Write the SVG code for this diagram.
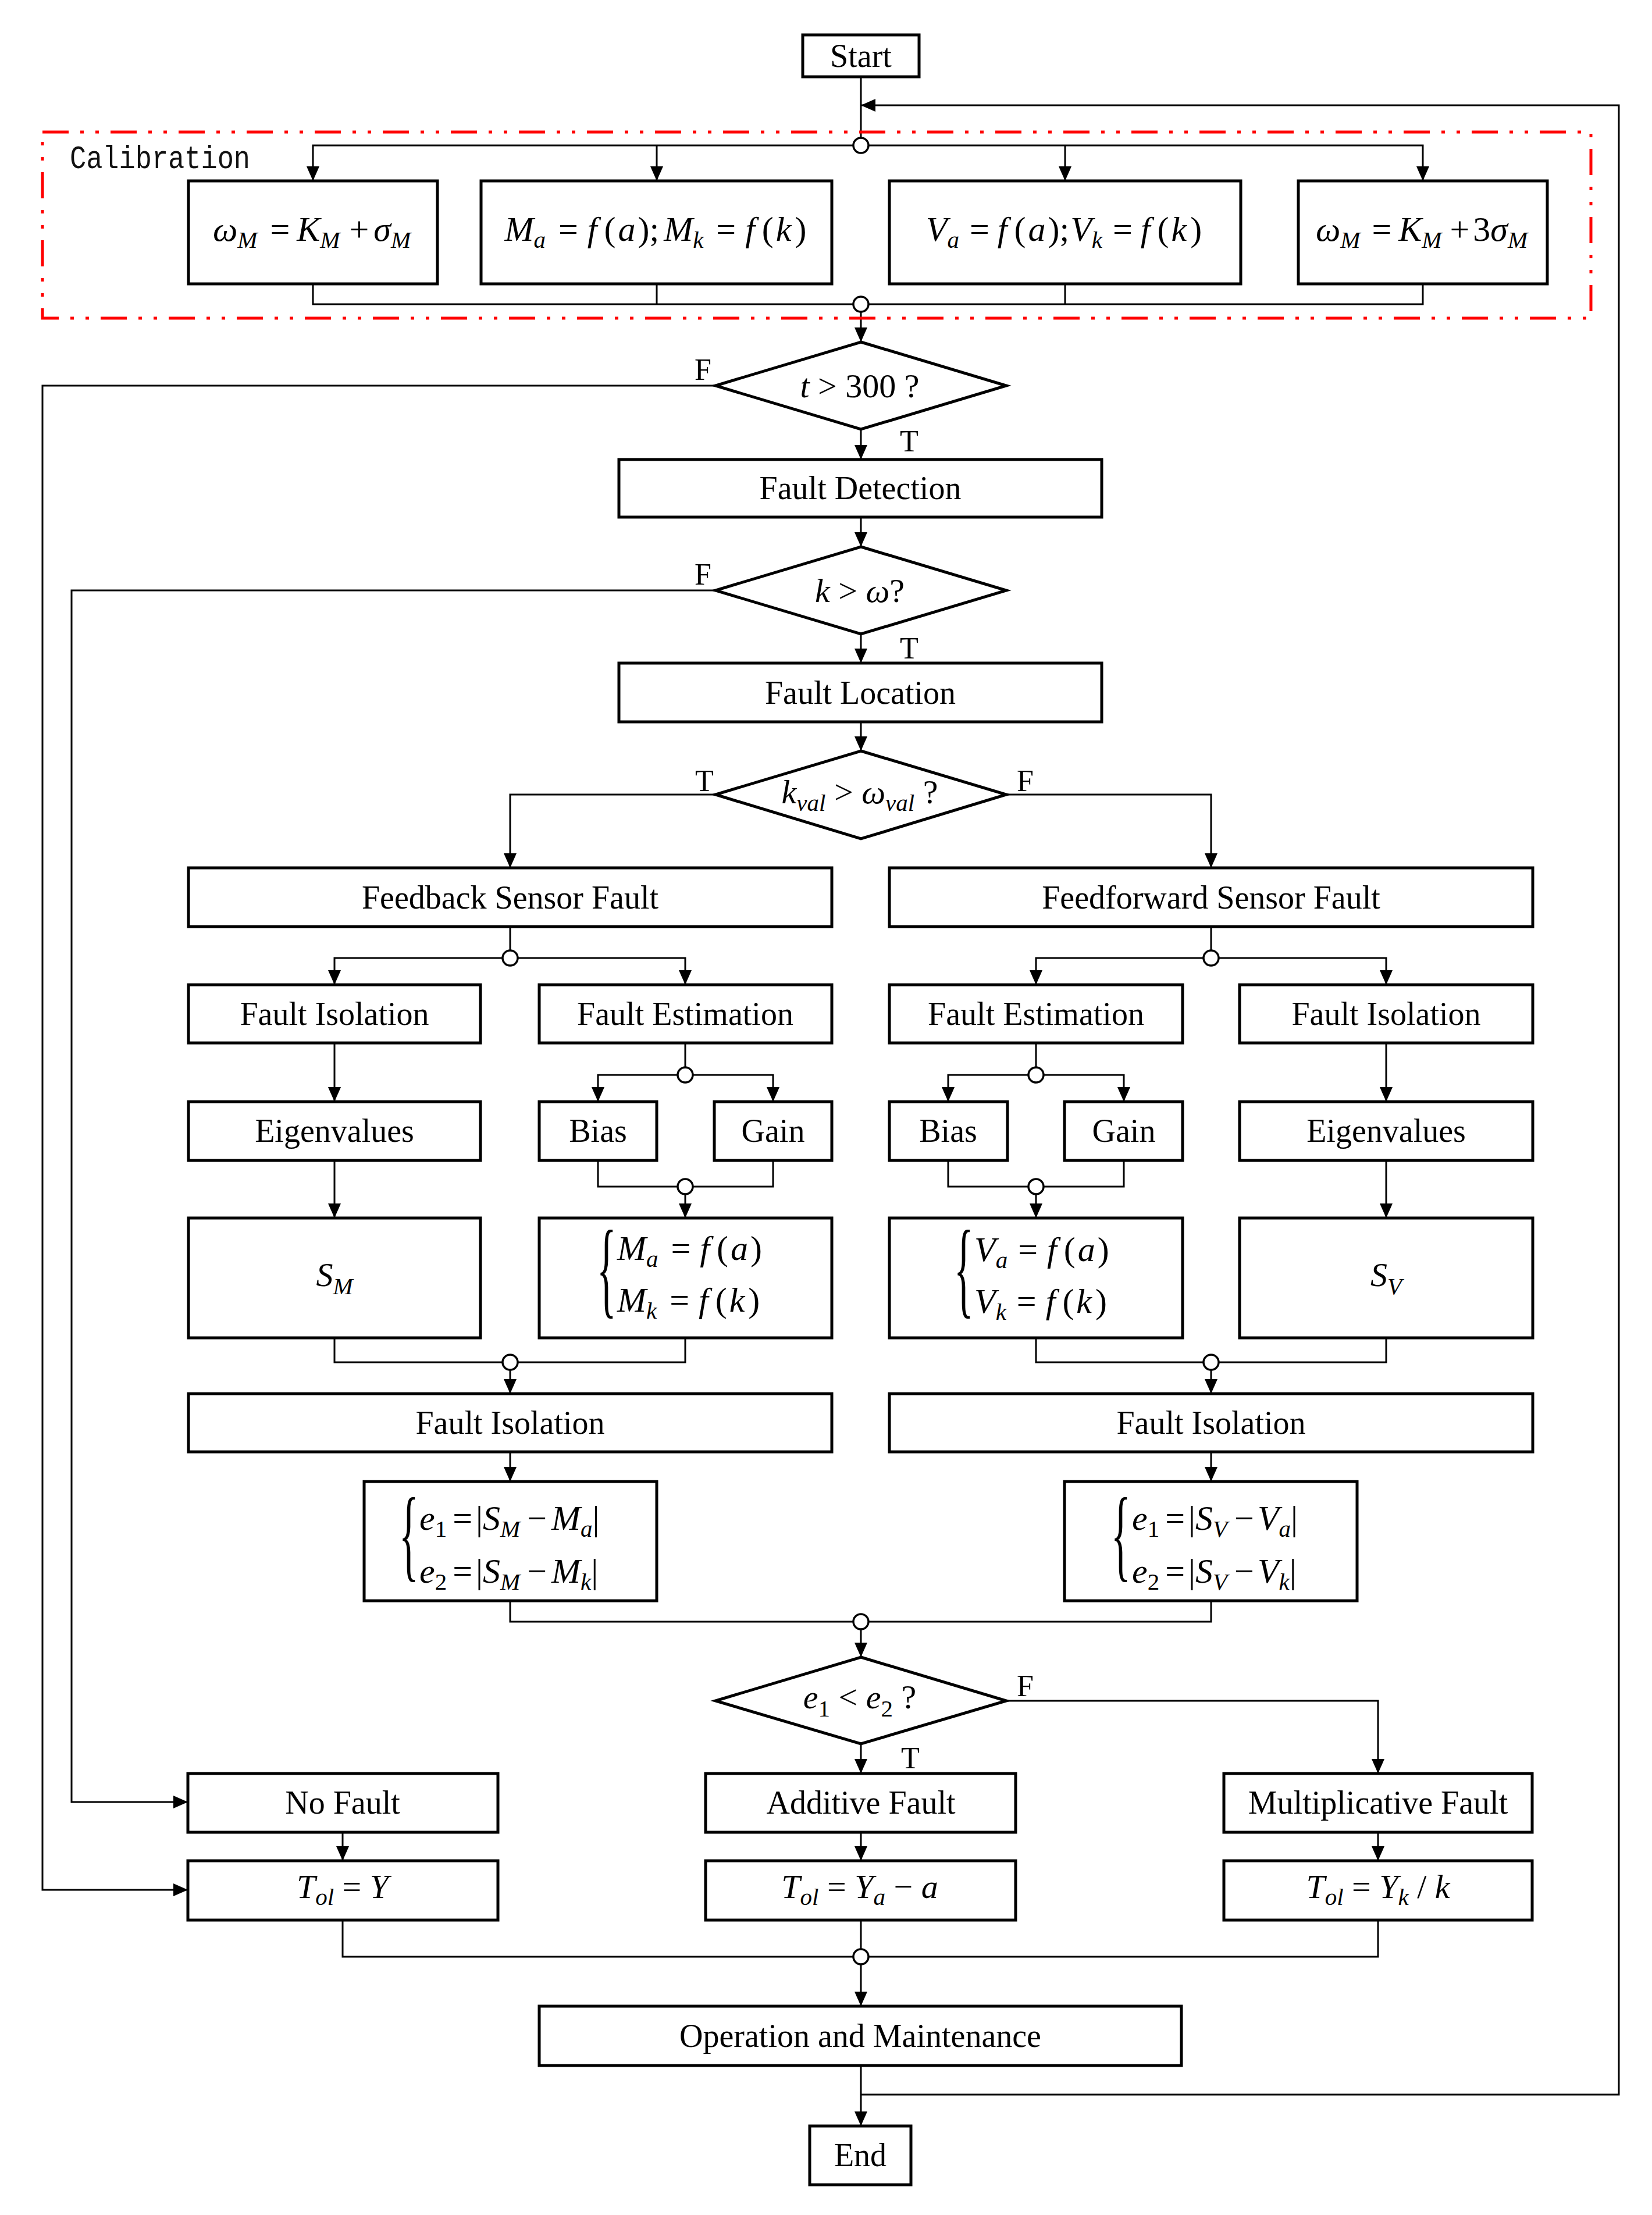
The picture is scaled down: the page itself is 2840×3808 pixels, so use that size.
<svg xmlns="http://www.w3.org/2000/svg" width="2840" height="3808" viewBox="0 0 2840 3808">
<style>
.box{fill:#fff;stroke:#000;stroke-width:5}
.ln{fill:none;stroke:#000;stroke-width:3}
.ar{fill:none;stroke:#000;stroke-width:3;marker-end:url(#ah)}
.jn{fill:#fff;stroke:#000;stroke-width:3.5}
.red{fill:none;stroke:#ff0000;stroke-width:5;stroke-dasharray:45 20 6 20 6 20}
.t{font-family:"Liberation Serif","Times New Roman",serif;font-size:56px;text-anchor:middle;fill:#000}
.m{font-family:"Liberation Serif","Times New Roman",serif;font-size:58px;fill:#000}
.f{font-family:"Liberation Serif","Times New Roman",serif;font-size:60px;fill:#000}
.mc{text-anchor:middle}
.i{font-style:italic}
.s{font-size:41px;font-style:italic}
.su{font-size:41px}
.lab{font-family:"Liberation Serif","Times New Roman",serif;font-size:52px;fill:#000}
.cal{font-family:"Liberation Mono","DejaVu Sans Mono",monospace;font-size:56px;fill:#111}
.br{font-family:"Liberation Serif","Times New Roman",serif;font-size:184px;fill:#000}
</style>
<defs>
<marker id="ah" markerUnits="userSpaceOnUse" markerWidth="25" markerHeight="22" viewBox="0 0 25 22" refX="25" refY="11" orient="auto"><path d="M0,0 L25,11 L0,22 z" fill="#000"/></marker>
</defs>
<rect x="0" y="0" width="2840" height="3808" fill="#fff"/>

<g id="connectors">
<path class="ln" d="M1480,132 V250"/>
<path class="ar" d="M1480,250 H538 V311"/>
<path class="ar" d="M1480,250 H2446 V311"/>
<path class="ar" d="M1129,250 V311"/>
<path class="ar" d="M1831,250 V311"/>
<path class="ln" d="M538,488 V523 H2446 V488"/>
<path class="ln" d="M1129,488 V523"/>
<path class="ln" d="M1831,488 V523"/>
<path class="ar" d="M1480,523 V588"/>
<path class="ar" d="M1230,663 H73 V3249 H323"/>
<path class="ar" d="M1480,738 V790"/>
<path class="ar" d="M1480,889 V940"/>
<path class="ar" d="M1230,1015 H123 V3098 H323"/>
<path class="ar" d="M1480,1090 V1140"/>
<path class="ar" d="M1480,1241 V1291"/>
<path class="ar" d="M1230,1366 H877 V1492"/>
<path class="ar" d="M1730,1366 H2082 V1492"/>
<path class="ln" d="M877,1593 V1647"/>
<path class="ar" d="M877,1647 H575 V1693"/>
<path class="ar" d="M877,1647 H1178 V1693"/>
<path class="ar" d="M575,1793 V1894"/>
<path class="ln" d="M1178,1793 V1848"/>
<path class="ar" d="M1178,1848 H1028 V1894"/>
<path class="ar" d="M1178,1848 H1329 V1894"/>
<path class="ln" d="M1028,1995 V2040 H1329 V1995"/>
<path class="ar" d="M1178,2040 V2094"/>
<path class="ar" d="M575,1995 V2094"/>
<path class="ln" d="M575,2300 V2342 H1178 V2300"/>
<path class="ar" d="M877,2342 V2396"/>
<path class="ar" d="M877,2496 V2547"/>
<path class="ln" d="M877,2752 V2788 H2082 V2752"/>
<path class="ln" d="M2082,1593 V1647"/>
<path class="ar" d="M2082,1647 H1781 V1693"/>
<path class="ar" d="M2082,1647 H2383 V1693"/>
<path class="ln" d="M1781,1793 V1848"/>
<path class="ar" d="M1781,1848 H1630 V1894"/>
<path class="ar" d="M1781,1848 H1932 V1894"/>
<path class="ar" d="M2383,1793 V1894"/>
<path class="ln" d="M1630,1995 V2040 H1932 V1995"/>
<path class="ar" d="M1781,2040 V2094"/>
<path class="ar" d="M2383,1995 V2094"/>
<path class="ln" d="M1781,2300 V2342 H2383 V2300"/>
<path class="ar" d="M2082,2342 V2396"/>
<path class="ar" d="M2082,2496 V2547"/>
<path class="ar" d="M1480,2788 V2849"/>
<path class="ar" d="M1730,2924 H2369 V3049"/>
<path class="ar" d="M1480,2998 V3049"/>
<path class="ar" d="M589,3150 V3199"/>
<path class="ar" d="M1480,3150 V3199"/>
<path class="ar" d="M2369,3150 V3199"/>
<path class="ln" d="M589,3301 V3364 H2369 V3301"/>
<path class="ln" d="M1480,3301 V3364"/>
<path class="ar" d="M1480,3364 V3449"/>
<path class="ar" d="M1480,3551 V3655"/>
<path class="ar" d="M1480,3601 H2783 V181 H1480"/>
<circle class="jn" cx="1480" cy="250" r="13"/>
<circle class="jn" cx="1480" cy="523" r="13"/>
<circle class="jn" cx="877" cy="1647" r="13"/>
<circle class="jn" cx="1178" cy="1848" r="13"/>
<circle class="jn" cx="1178" cy="2040" r="13"/>
<circle class="jn" cx="877" cy="2342" r="13"/>
<circle class="jn" cx="2082" cy="1647" r="13"/>
<circle class="jn" cx="1781" cy="1848" r="13"/>
<circle class="jn" cx="1781" cy="2040" r="13"/>
<circle class="jn" cx="2082" cy="2342" r="13"/>
<circle class="jn" cx="1480" cy="2788" r="13"/>
<circle class="jn" cx="1480" cy="3364" r="13"/>
<text class="lab" x="1194" y="653">F</text>
<text class="lab" x="1547" y="776">T</text>
<text class="lab" x="1194" y="1005">F</text>
<text class="lab" x="1547" y="1132">T</text>
<text class="lab" x="1195" y="1360">T</text>
<text class="lab" x="1748" y="1360">F</text>
<text class="lab" x="1748" y="2916">F</text>
<text class="lab" x="1549" y="3040">T</text>
</g>

<g id="calibration">
<rect class="red" x="73" y="227" width="2662" height="320"/>
<text class="cal" x="120" y="289" textLength="310" lengthAdjust="spacingAndGlyphs">Calibration</text>
</g>

<g id="start"><rect class="box" x="1380" y="60" width="200" height="72"/><text class="t" x="1480" y="115">Start</text></g>

<g id="cal1"><rect class="box" x="324" y="311" width="428" height="177"/>
<text class="f mc" x="536" y="414"><tspan class="i">ω</tspan><tspan class="s" dy="12">M</tspan><tspan dy="-12" dx="22">=</tspan><tspan class="i" dx="12">K</tspan><tspan class="s" dy="12">M</tspan><tspan dy="-12" dx="16">+</tspan><tspan class="i" dx="8">σ</tspan><tspan class="s" dy="12">M</tspan></text></g>
<g id="cal2"><rect class="box" x="827" y="311" width="603" height="177"/>
<text class="f mc" x="1127" y="414"><tspan class="i">M</tspan><tspan class="s" dy="12">a</tspan><tspan dy="-12" dx="22">=</tspan><tspan class="i" dx="16">f</tspan><tspan dx="12">(</tspan><tspan class="i" dx="4">a</tspan><tspan dx="4">);</tspan><tspan class="i" dx="8">M</tspan><tspan class="s" dy="12">k</tspan><tspan dy="-12" dx="22">=</tspan><tspan class="i" dx="16">f</tspan><tspan dx="12">(</tspan><tspan class="i" dx="4">k</tspan><tspan dx="6">)</tspan></text></g>
<g id="cal3"><rect class="box" x="1529" y="311" width="604" height="177"/>
<text class="f mc" x="1829" y="414"><tspan class="i">V</tspan><tspan class="s" dy="12">a</tspan><tspan dy="-12" dx="18">=</tspan><tspan class="i" dx="14">f</tspan><tspan dx="12">(</tspan><tspan class="i" dx="4">a</tspan><tspan dx="4">);</tspan><tspan class="i" dx="2">V</tspan><tspan class="s" dy="12">k</tspan><tspan dy="-12" dx="18">=</tspan><tspan class="i" dx="14">f</tspan><tspan dx="12">(</tspan><tspan class="i" dx="4">k</tspan><tspan dx="6">)</tspan></text></g>
<g id="cal4"><rect class="box" x="2232" y="311" width="428" height="177"/>
<text class="f mc" x="2444" y="414"><tspan class="i">ω</tspan><tspan class="s" dy="12">M</tspan><tspan dy="-12" dx="20">=</tspan><tspan class="i" dx="12">K</tspan><tspan class="s" dy="12">M</tspan><tspan dy="-12" dx="14">+</tspan><tspan dx="6">3</tspan><tspan class="i">σ</tspan><tspan class="s" dy="12">M</tspan></text></g>

<g id="dec1"><polygon class="box" points="1480,588 1730,663 1480,738 1230,663"/>
<text class="m mc" x="1478" y="683"><tspan class="i">t</tspan><tspan> &gt; 300 ?</tspan></text></g>
<g id="faultDetection"><rect class="box" x="1064" y="790" width="830" height="99"/><text class="t" x="1479" y="858">Fault Detection</text></g>
<g id="dec2"><polygon class="box" points="1480,940 1730,1015 1480,1090 1230,1015"/>
<text class="m mc" x="1478" y="1035"><tspan class="i">k</tspan><tspan> &gt; </tspan><tspan class="i">ω</tspan><tspan>?</tspan></text></g>
<g id="faultLocation"><rect class="box" x="1064" y="1140" width="830" height="101"/><text class="t" x="1479" y="1210">Fault Location</text></g>
<g id="dec3"><polygon class="box" points="1480,1291 1730,1366 1480,1442 1230,1366"/>
<text class="m mc" x="1478" y="1381"><tspan class="i">k</tspan><tspan class="s" dy="13">val</tspan><tspan dy="-13"> &gt; </tspan><tspan class="i">ω</tspan><tspan class="s" dy="13">val</tspan><tspan dy="-13"> ?</tspan></text></g>

<g id="feedback"><rect class="box" x="324" y="1492" width="1106" height="101"/><text class="t" x="877" y="1562">Feedback Sensor Fault</text></g>
<g id="feedforward"><rect class="box" x="1529" y="1492" width="1106" height="101"/><text class="t" x="2082" y="1562">Feedforward Sensor Fault</text></g>

<g id="fbIsolation"><rect class="box" x="324" y="1693" width="502" height="100"/><text class="t" x="575" y="1762">Fault Isolation</text></g>
<g id="fbEstimation"><rect class="box" x="927" y="1693" width="503" height="100"/><text class="t" x="1178" y="1762">Fault Estimation</text></g>
<g id="fbEigen"><rect class="box" x="324" y="1894" width="502" height="101"/><text class="t" x="575" y="1963">Eigenvalues</text></g>
<g id="fbBias"><rect class="box" x="927" y="1894" width="202" height="101"/><text class="t" x="1028" y="1963">Bias</text></g>
<g id="fbGain"><rect class="box" x="1228" y="1894" width="202" height="101"/><text class="t" x="1329" y="1963">Gain</text></g>
<g id="fbSM"><rect class="box" x="324" y="2094" width="502" height="206"/>
<text class="m mc" x="575" y="2211"><tspan class="i">S</tspan><tspan class="s" dy="14">M</tspan></text></g>
<g id="fbMaMk"><rect class="box" x="927" y="2094" width="503" height="206"/>
<text class="br" transform="translate(1026,2242) scale(0.38,1)" x="0" y="0">{</text>
<text class="f" x="1061" y="2166"><tspan class="i">M</tspan><tspan class="s" dy="12">a</tspan><tspan dy="-12" dx="22">=</tspan><tspan class="i" dx="16">f</tspan><tspan dx="12">(</tspan><tspan class="i" dx="4">a</tspan><tspan dx="4">)</tspan></text>
<text class="f" x="1061" y="2255"><tspan class="i">M</tspan><tspan class="s" dy="12">k</tspan><tspan dy="-12" dx="22">=</tspan><tspan class="i" dx="16">f</tspan><tspan dx="12">(</tspan><tspan class="i" dx="4">k</tspan><tspan dx="6">)</tspan></text></g>
<g id="fbIsolation2"><rect class="box" x="324" y="2396" width="1106" height="100"/><text class="t" x="877" y="2465">Fault Isolation</text></g>
<g id="fbE"><rect class="box" x="626" y="2547" width="503" height="205"/>
<text class="br" transform="translate(686,2696) scale(0.38,0.95)" x="0" y="0">{</text>
<text class="f" x="721" y="2630"><tspan class="i">e</tspan><tspan class="su" dy="12">1</tspan><tspan dy="-12" dx="10">=</tspan><tspan dx="6">|</tspan><tspan class="i">S</tspan><tspan class="s" dy="12">M</tspan><tspan dy="-12" dx="12">−</tspan><tspan class="i" dx="8">M</tspan><tspan class="s" dy="12">a</tspan><tspan dy="-12">|</tspan></text>
<text class="f" x="721" y="2721"><tspan class="i">e</tspan><tspan class="su" dy="12">2</tspan><tspan dy="-12" dx="10">=</tspan><tspan dx="6">|</tspan><tspan class="i">S</tspan><tspan class="s" dy="12">M</tspan><tspan dy="-12" dx="12">−</tspan><tspan class="i" dx="8">M</tspan><tspan class="s" dy="12">k</tspan><tspan dy="-12">|</tspan></text></g>

<g id="ffEstimation"><rect class="box" x="1529" y="1693" width="504" height="100"/><text class="t" x="1781" y="1762">Fault Estimation</text></g>
<g id="ffIsolation"><rect class="box" x="2131" y="1693" width="504" height="100"/><text class="t" x="2383" y="1762">Fault Isolation</text></g>
<g id="ffBias"><rect class="box" x="1529" y="1894" width="203" height="101"/><text class="t" x="1630" y="1963">Bias</text></g>
<g id="ffGain"><rect class="box" x="1830" y="1894" width="203" height="101"/><text class="t" x="1932" y="1963">Gain</text></g>
<g id="ffEigen"><rect class="box" x="2131" y="1894" width="504" height="101"/><text class="t" x="2383" y="1963">Eigenvalues</text></g>
<g id="ffVaVk"><rect class="box" x="1529" y="2094" width="504" height="206"/>
<text class="br" transform="translate(1640,2242) scale(0.38,1)" x="0" y="0">{</text>
<text class="f" x="1675" y="2168"><tspan class="i">V</tspan><tspan class="s" dy="12">a</tspan><tspan dy="-12" dx="18">=</tspan><tspan class="i" dx="16">f</tspan><tspan dx="12">(</tspan><tspan class="i" dx="4">a</tspan><tspan dx="4">)</tspan></text>
<text class="f" x="1675" y="2257"><tspan class="i">V</tspan><tspan class="s" dy="12">k</tspan><tspan dy="-12" dx="18">=</tspan><tspan class="i" dx="16">f</tspan><tspan dx="12">(</tspan><tspan class="i" dx="4">k</tspan><tspan dx="6">)</tspan></text></g>
<g id="ffSV"><rect class="box" x="2131" y="2094" width="504" height="206"/>
<text class="m mc" x="2383" y="2211"><tspan class="i">S</tspan><tspan class="s" dy="14">V</tspan></text></g>
<g id="ffIsolation2"><rect class="box" x="1529" y="2396" width="1106" height="100"/><text class="t" x="2082" y="2465">Fault Isolation</text></g>
<g id="ffE"><rect class="box" x="1830" y="2547" width="503" height="205"/>
<text class="br" transform="translate(1910,2696) scale(0.38,0.95)" x="0" y="0">{</text>
<text class="f" x="1946" y="2630"><tspan class="i">e</tspan><tspan class="su" dy="12">1</tspan><tspan dy="-12" dx="10">=</tspan><tspan dx="6">|</tspan><tspan class="i">S</tspan><tspan class="s" dy="12">V</tspan><tspan dy="-12" dx="12">−</tspan><tspan class="i" dx="6">V</tspan><tspan class="s" dy="12">a</tspan><tspan dy="-12">|</tspan></text>
<text class="f" x="1946" y="2721"><tspan class="i">e</tspan><tspan class="su" dy="12">2</tspan><tspan dy="-12" dx="10">=</tspan><tspan dx="6">|</tspan><tspan class="i">S</tspan><tspan class="s" dy="12">V</tspan><tspan dy="-12" dx="12">−</tspan><tspan class="i" dx="6">V</tspan><tspan class="s" dy="12">k</tspan><tspan dy="-12">|</tspan></text></g>

<g id="dec4"><polygon class="box" points="1480,2849 1730,2924 1480,2998 1230,2924"/>
<text class="m mc" x="1478" y="2937"><tspan class="i">e</tspan><tspan class="su" dy="14">1</tspan><tspan dy="-14"> &lt; </tspan><tspan class="i">e</tspan><tspan class="su" dy="14">2</tspan><tspan dy="-14"> ?</tspan></text></g>

<g id="noFault"><rect class="box" x="323" y="3049" width="533" height="101"/><text class="t" x="589" y="3118">No Fault</text></g>
<g id="tolY"><rect class="box" x="323" y="3199" width="533" height="102"/>
<text class="m mc" x="589" y="3263"><tspan class="i">T</tspan><tspan class="s" dy="12">ol</tspan><tspan dy="-12"> = </tspan><tspan class="i">Y</tspan></text></g>
<g id="additive"><rect class="box" x="1213" y="3049" width="533" height="101"/><text class="t" x="1480" y="3118">Additive Fault</text></g>
<g id="tolYa"><rect class="box" x="1213" y="3199" width="533" height="102"/>
<text class="m mc" x="1478" y="3263"><tspan class="i">T</tspan><tspan class="s" dy="12">ol</tspan><tspan dy="-12"> = </tspan><tspan class="i">Y</tspan><tspan class="s" dy="12">a</tspan><tspan dy="-12"> − </tspan><tspan class="i">a</tspan></text></g>
<g id="multiplicative"><rect class="box" x="2104" y="3049" width="530" height="101"/><text class="t" x="2369" y="3118">Multiplicative Fault</text></g>
<g id="tolYk"><rect class="box" x="2104" y="3199" width="530" height="102"/>
<text class="m mc" x="2369" y="3263"><tspan class="i">T</tspan><tspan class="s" dy="12">ol</tspan><tspan dy="-12"> = </tspan><tspan class="i">Y</tspan><tspan class="s" dy="12">k</tspan><tspan dy="-12"> / </tspan><tspan class="i">k</tspan></text></g>

<g id="operation"><rect class="box" x="927" y="3449" width="1104" height="102"/><text class="t" x="1479" y="3519">Operation and Maintenance</text></g>
<g id="end"><rect class="box" x="1392" y="3655" width="174" height="101"/><text class="t" x="1479" y="3724">End</text></g>
</svg>
